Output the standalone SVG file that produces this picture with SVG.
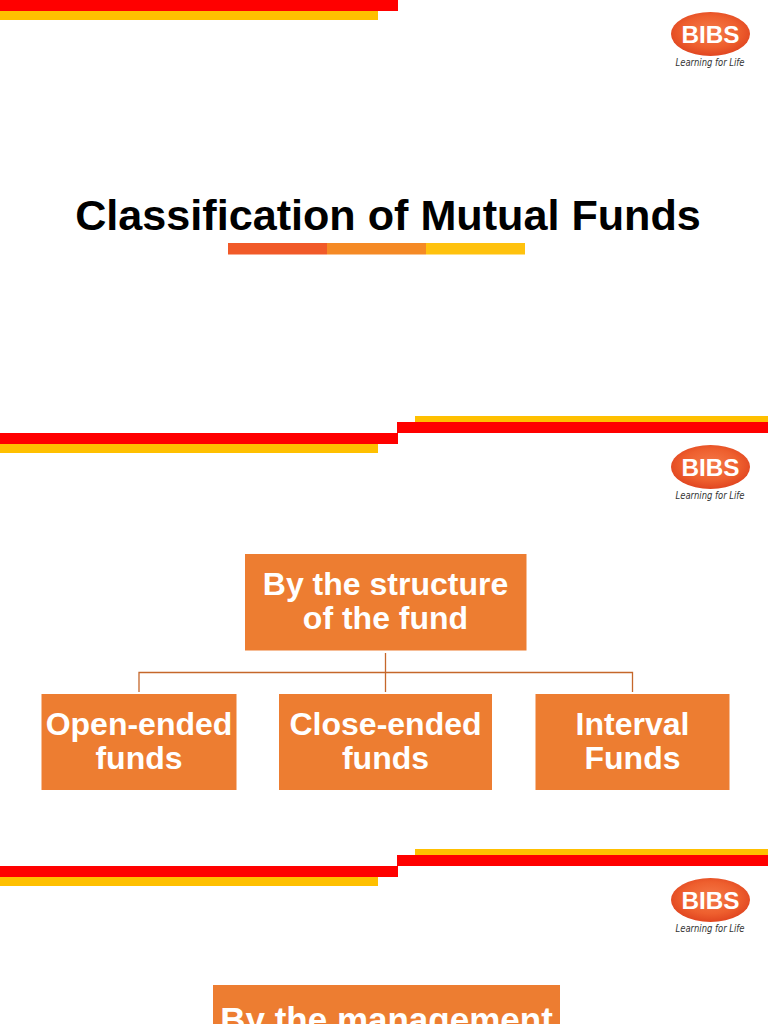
<svg xmlns="http://www.w3.org/2000/svg" width="768" height="1024" viewBox="0 0 768 1024">
<defs>
<radialGradient id="lg" cx="0.5" cy="0.45" r="0.6"><stop offset="0" stop-color="#f47a4a"/><stop offset="0.6" stop-color="#ee5f2e"/><stop offset="1" stop-color="#dd3f1d"/></radialGradient>
<g id="logo">
<ellipse cx="710.500" cy="34" rx="39.500" ry="22" fill="url(#lg)"/>
<text x="710.500" y="42.500" text-anchor="middle" font-size="24" font-weight="700" fill="#fff" class="f" textLength="58" lengthAdjust="spacingAndGlyphs">BIBS</text>
<text x="710" y="66" text-anchor="middle" font-size="11" font-style="italic" fill="#333" font-family="'DejaVu Sans',sans-serif" textLength="69" lengthAdjust="spacingAndGlyphs">Learning for Life</text>
</g>
</defs>
<style>
.f{font-family:"Liberation Sans",Arial,sans-serif}
.box{fill:#ed7d31}
.t{font-family:"Liberation Sans",Arial,sans-serif;font-weight:700;font-size:32px;fill:#fff;text-anchor:middle}
.c{stroke:#c5672b;stroke-width:1.300;fill:none}
</style>
<rect width="768" height="1024" fill="#fff"/>
<g id="bands">
<rect x="0" y="0" width="398" height="11" fill="#ff0000"/>
<rect x="0" y="11" width="378" height="9" fill="#ffc000"/>
<rect x="415" y="416" width="353" height="6" fill="#ffc000"/>
<rect x="397" y="422" width="371" height="11" fill="#ff0000"/>
<rect x="0" y="433" width="398" height="11" fill="#ff0000"/>
<rect x="0" y="444" width="378" height="9" fill="#ffc000"/>
<rect x="415" y="849" width="353" height="6" fill="#ffc000"/>
<rect x="397" y="855" width="371" height="11" fill="#ff0000"/>
<rect x="0" y="866" width="398" height="11" fill="#ff0000"/>
<rect x="0" y="877" width="378" height="9" fill="#ffc000"/>
</g>
<g id="logo1"><use href="#logo"/></g>
<g id="logo2"><use href="#logo" y="433"/></g>
<g id="logo3"><use href="#logo" y="866"/></g>
<g id="title">
<text x="388" y="230" text-anchor="middle" font-size="43.150" font-weight="700" fill="#000" class="f">Classification of Mutual Funds</text>
<rect x="228" y="243" width="99" height="11.500" fill="#f15a29"/>
<rect x="327" y="243" width="99" height="11.500" fill="#f58a25"/>
<rect x="426" y="243" width="99" height="11.500" fill="#ffc20e"/>
</g>
<g id="connectors">
<path class="c" d="M385.500 653V692M139 692V672.500H632.500V692"/>
</g>
<g id="n1"><rect class="box" x="245" y="554" width="281.500" height="96.500"/><text class="t" x="385.500" y="595">By the structure</text><text class="t" x="385.500" y="629">of the fund</text></g>
<g id="n2"><rect class="box" x="41.500" y="694" width="195" height="96"/><text class="t" x="139" y="735">Open-ended</text><text class="t" x="139" y="769">funds</text></g>
<g id="n3"><rect class="box" x="279" y="694" width="213" height="96"/><text class="t" x="385.500" y="735">Close-ended</text><text class="t" x="385.500" y="769">funds</text></g>
<g id="n4"><rect class="box" x="535.500" y="694" width="194" height="96"/><text class="t" x="632.500" y="735">Interval</text><text class="t" x="632.500" y="769">Funds</text></g>
<g id="n5"><rect class="box" x="213" y="985" width="347" height="39"/><text class="t" x="386.500" y="1032" style="font-size:35px">By the management</text></g>
</svg>
